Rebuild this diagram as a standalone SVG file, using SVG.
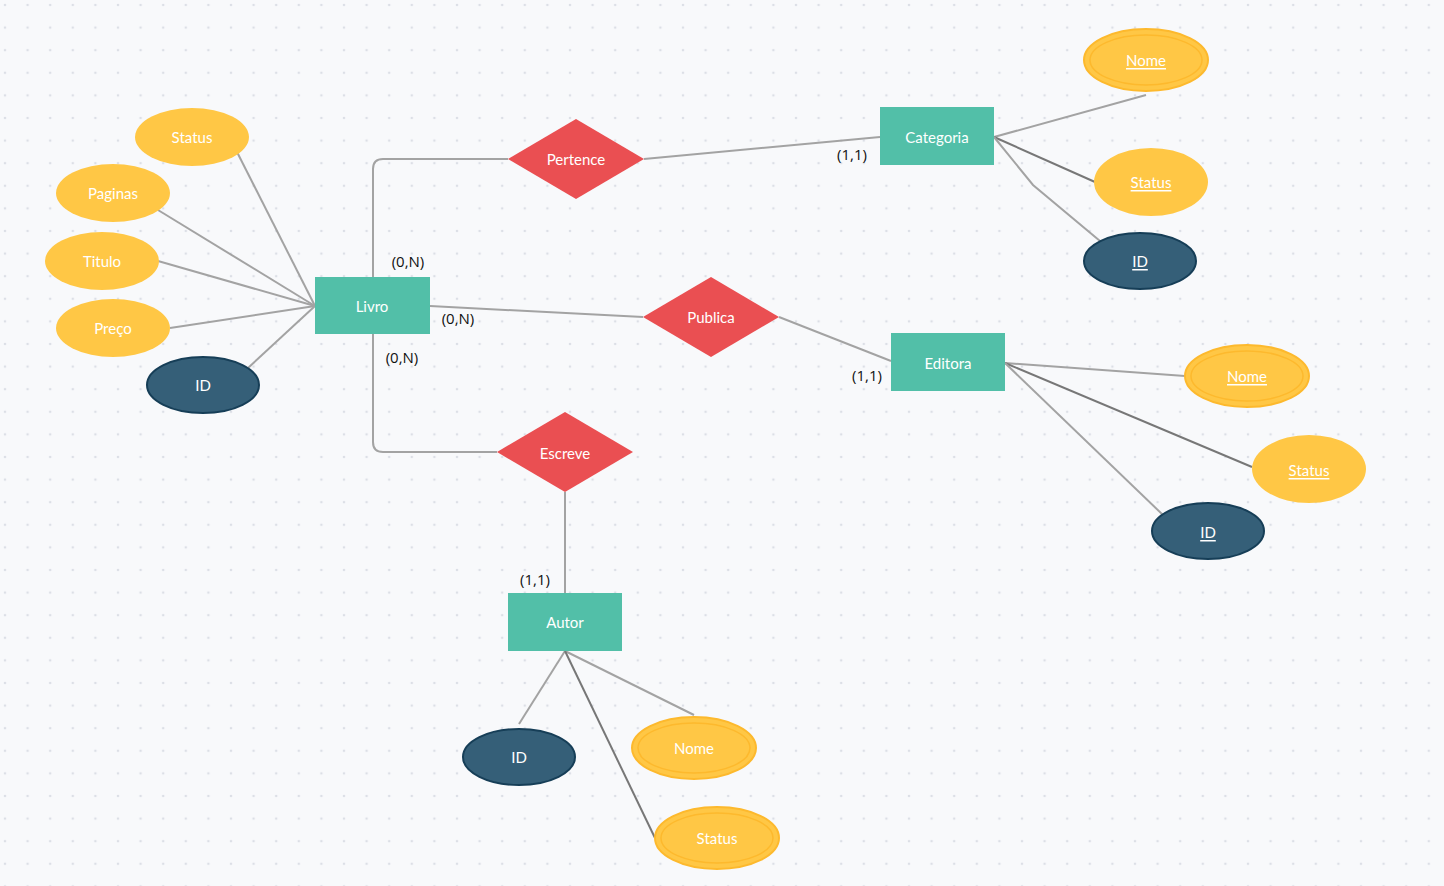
<svg xmlns="http://www.w3.org/2000/svg" width="1444" height="886" viewBox="0 0 1444 886">
<defs>
<pattern id="dots" width="22.6" height="22.6" patternUnits="userSpaceOnUse" x="3" y="3"><circle cx="2" cy="2" r="1.3" fill="#dcdfe6"/></pattern>
<style>
.y{fill:#ffc745}
.yd{fill:#ffc745;stroke:#fdb92d;stroke-width:2}
.n{fill:#355f78;stroke:#163e57;stroke-width:2}
.e{fill:#52bfa8}
.r{fill:#ea4f52}
.c line,.c path,.c polyline{stroke:#a3a3a3;stroke-width:2;fill:none}
.c .dk{stroke:#777}
text{font-family:Lato,"Liberation Sans",sans-serif;font-size:15px;fill:#fff;text-anchor:middle;dominant-baseline:central}
.u{text-decoration:underline}
.lb{fill:#111;font-family:"Open Sans","Liberation Sans",sans-serif}
</style>
</defs>
<rect width="1444" height="886" fill="#f8f9fb"/>
<rect width="1444" height="886" fill="url(#dots)"/>
<g class="c" id="connectors">
<line x1="237" y1="152" x2="315" y2="306"/>
<line x1="158" y1="210" x2="315" y2="306"/>
<line x1="158" y1="261" x2="315" y2="306"/>
<line x1="170" y1="328" x2="315" y2="306"/>
<line x1="248" y1="368" x2="315" y2="306"/>
<path d="M373 277 V169 Q373 159 383 159 H508"/>
<line x1="644" y1="159" x2="880" y2="137"/>
<line x1="430" y1="306" x2="643" y2="317"/>
<line x1="779" y1="317" x2="891" y2="361"/>
<path d="M373 334 V442 Q373 452 383 452 H497"/>
<line x1="565" y1="492" x2="565" y2="593"/>
<line x1="994" y1="137" x2="1146" y2="95"/>
<line class="dk" x1="994" y1="137" x2="1095" y2="182"/>
<polyline points="994,137 1033,185 1100,241"/>
<line x1="1005" y1="363" x2="1185" y2="376"/>
<line class="dk" x1="1005" y1="363" x2="1252" y2="467"/>
<line x1="1005" y1="363" x2="1163" y2="515"/>
<line x1="565" y1="651" x2="519" y2="724"/>
<line x1="565" y1="651" x2="694" y2="715"/>
<line class="dk" x1="565" y1="651" x2="655" y2="838"/>
</g>
<g id="labels">
<text class="lb" x="408" y="261">(0,N)</text>
<text class="lb" x="458" y="318">(0,N)</text>
<text class="lb" x="402" y="357">(0,N)</text>
<text class="lb" x="852" y="154">(1,1)</text>
<text class="lb" x="867" y="375">(1,1)</text>
<text class="lb" x="535" y="579">(1,1)</text>
</g>
<g id="livro"><rect class="e" x="315" y="277" width="115" height="57"/><text x="372" y="306">Livro</text></g>
<g id="categoria"><rect class="e" x="880" y="107" width="114" height="58"/><text x="937" y="137">Categoria</text></g>
<g id="editora"><rect class="e" x="891" y="333" width="114" height="58"/><text x="948" y="363">Editora</text></g>
<g id="autor"><rect class="e" x="508" y="593" width="114" height="58"/><text x="565" y="622">Autor</text></g>
<g id="pertence"><polygon class="r" points="508,159 576,119 644,159 576,199"/><text x="576" y="159">Pertence</text></g>
<g id="publica"><polygon class="r" points="643,317 711,277 779,317 711,357"/><text x="711" y="317">Publica</text></g>
<g id="escreve"><polygon class="r" points="497,452 565,412 633,452 565,492"/><text x="565" y="453">Escreve</text></g>
<g id="livro-status"><ellipse class="y" cx="192" cy="137" rx="57" ry="29"/><text x="192" y="137">Status</text></g>
<g id="livro-paginas"><ellipse class="y" cx="113" cy="193" rx="57" ry="29"/><text x="113" y="193">Paginas</text></g>
<g id="livro-titulo"><ellipse class="y" cx="102" cy="261" rx="57" ry="29"/><text x="102" y="261">Titulo</text></g>
<g id="livro-preco"><ellipse class="y" cx="113" cy="328" rx="57" ry="29"/><text x="113" y="328">Preço</text></g>
<g id="livro-id"><ellipse class="n" cx="203" cy="385" rx="56" ry="28"/><text x="203" y="385">ID</text></g>
<g id="cat-nome"><ellipse class="yd" cx="1146" cy="60" rx="62" ry="31"/><ellipse fill="none" stroke="#fdb92d" stroke-width="1.5" cx="1146" cy="60" rx="56" ry="25"/><text class="u" x="1146" y="60">Nome</text></g>
<g id="cat-status"><ellipse class="y" cx="1151" cy="182" rx="57" ry="34"/><text class="u" x="1151" y="182">Status</text></g>
<g id="cat-id"><ellipse class="n" cx="1140" cy="261" rx="56" ry="28"/><text class="u" x="1140" y="261">ID</text></g>
<g id="ed-nome"><ellipse class="yd" cx="1247" cy="376" rx="62" ry="31"/><ellipse fill="none" stroke="#fdb92d" stroke-width="1.5" cx="1247" cy="376" rx="56" ry="25"/><text class="u" x="1247" y="376">Nome</text></g>
<g id="ed-status"><ellipse class="y" cx="1309" cy="469" rx="57" ry="34"/><text class="u" x="1309" y="470">Status</text></g>
<g id="ed-id"><ellipse class="n" cx="1208" cy="531" rx="56" ry="28"/><text class="u" x="1208" y="532">ID</text></g>
<g id="autor-id"><ellipse class="n" cx="519" cy="757" rx="56" ry="28"/><text x="519" y="757">ID</text></g>
<g id="autor-nome"><ellipse class="yd" cx="694" cy="748" rx="62" ry="31"/><ellipse fill="none" stroke="#fdb92d" stroke-width="1.5" cx="694" cy="748" rx="56" ry="25"/><text x="694" y="748">Nome</text></g>
<g id="autor-status"><ellipse class="yd" cx="717" cy="838" rx="62" ry="31"/><ellipse fill="none" stroke="#fdb92d" stroke-width="1.5" cx="717" cy="838" rx="56" ry="25"/><text x="717" y="838">Status</text></g>
</svg>
